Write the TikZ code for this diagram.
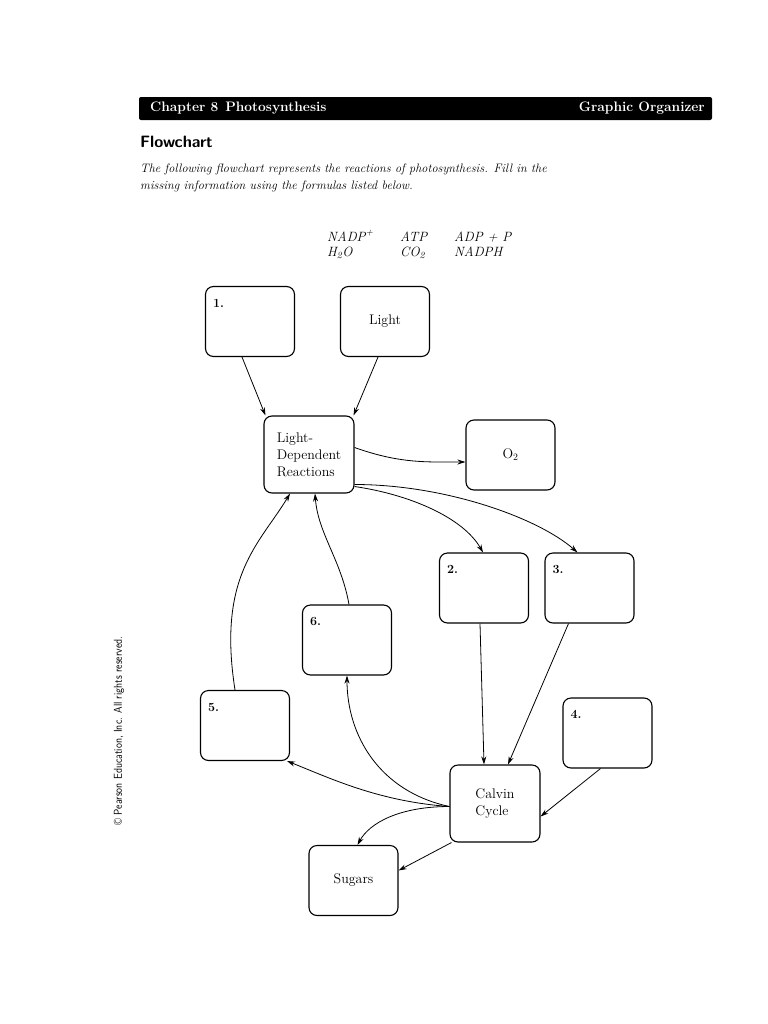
\documentclass[tikz,border=0pt]{standalone}
\usepackage{tikz}
\usetikzlibrary{arrows.meta, positioning}

\begin{document}
\begin{tikzpicture}[x=1bp,y=-1bp,>={Stealth[length=8bp,width=5bp]},
    orgbox/.style={rectangle, draw, line width=1.1bp, rounded corners=8bp, minimum width=89bp, minimum height=70bp, inner sep=0pt, font=\fontsize{14}{17}\selectfont},
    tallbox/.style={orgbox, minimum width=90bp, minimum height=77bp, align=left},
    numlabel/.style={anchor=north west, inner sep=0pt, xshift=8bp, yshift=-13bp, font=\fontsize{12.5}{15}\selectfont\bfseries},
    formula/.style={anchor=base west, inner sep=0pt, font=\fontsize{13.5}{15}\selectfont\itshape},
    link/.style={->, line width=0.8bp}]

      % page and header
      \fill[white] (0,0) rectangle (768,1024);
      \useasboundingbox (0,0) rectangle (768,1024);
      \fill[black, rounded corners=2bp] (139,97) rectangle (712,120);
      \node (chap) [anchor=base west, text=white, inner sep=0pt, font=\fontsize{13.8}{16}\selectfont\bfseries] at (150,111.5) {Chapter 8\enspace Photosynthesis};
      \node (org) [anchor=base east, text=white, inner sep=0pt, font=\fontsize{13.8}{16}\selectfont\bfseries] at (705,111.5) {Graphic Organizer};
      \node (title) [anchor=base west, inner sep=0pt, font=\fontsize{16.5}{19}\selectfont\sffamily\bfseries] at (140,147.5) {Flowchart};
      \node (intro) [anchor=north west, inner sep=0pt, align=left, font=\fontsize{12.3}{17}\selectfont\itshape] at (140,164) {The following flowchart represents the reactions of photosynthesis. Fill in the\\missing information using the formulas listed below.};

      % formulas
      \node (f1) [formula] at (327,241) {NADP\textsuperscript{+}};
      \node (f2) [formula] at (400,241) {ATP};
      \node (f3) [formula] at (454,241) {ADP + P};
      \node (f4) [formula] at (327,256.5) {H\textsubscript{2}O};
      \node (f5) [formula] at (400,256.5) {CO\textsubscript{2}};
      \node (f6) [formula] at (454,256.5) {NADPH};

      % boxes
      \node (b1) [orgbox, label={[numlabel]north west:1.}] at (250,321.5) {};
      \node (light) [orgbox] at (385,321.5) {Light};
      \node (ldr) [tallbox] at (309,454.5) {Light-\\Dependent\\Reactions};
      \node (o2) [orgbox] at (510.5,455) {O\textsubscript{2}};
      \node (b2) [orgbox, label={[numlabel]north west:2.}] at (484,588) {};
      \node (b3) [orgbox, label={[numlabel]north west:3.}] at (589.5,588) {};
      \node (b6) [orgbox, label={[numlabel]north west:6.}] at (347,640) {};
      \node (b5) [orgbox, label={[numlabel]north west:5.}] at (245,725.5) {};
      \node (b4) [orgbox, label={[numlabel]north west:4.}] at (607.5,733) {};
      \node (calvin) [tallbox] at (495,803.5) {Calvin\\Cycle};
      \node (sugars) [orgbox] at (353.5,880.5) {Sugars};

      % connectors
      \coordinate (cw) at ([yshift=-3bp]calvin.west);
      \draw[link] ([xshift=-8bp]b1.south) -- ([xshift=2bp]ldr.north west);
      \draw[link] ([xshift=-7bp]light.south) -- ([xshift=-1bp]ldr.north east);
      \draw[link] ([yshift=7bp]ldr.east) .. controls +(45,16) and +(-40,0) .. ([yshift=-7bp]o2.west);
      \draw[link] ([yshift=-32bp]ldr.east) .. controls +(55,8) and +(-20,-35) .. ([xshift=-1bp]b2.north);
      \draw[link] ([yshift=-30bp]ldr.east) .. controls +(90,0) and +(-40,-35) .. ([xshift=-12bp]b3.north);
      \draw[link] ([xshift=-4bp]b2.south) -- ([xshift=-11bp]calvin.north);
      \draw[link] ([xshift=-21bp]b3.south) -- ([xshift=13bp]calvin.north);
      \draw[link] ([xshift=-7bp]b4.south) -- ([yshift=-13bp]calvin.east);
      \draw[link] (cw) .. controls +(-70,-5) and +(45,18) .. ([xshift=-3bp]b5.south east);
      \draw[link] (cw) .. controls +(-70,-15) and +(0,60) .. (b6.south);
      \draw[link] (cw) .. controls +(-50,0) and +(12,-22) .. ([xshift=4bp]sugars.north);
      \draw[link] ([xshift=2bp]calvin.south west) -- ([yshift=10bp]sugars.east);
      \draw[link] ([xshift=-10bp]b5.north) .. controls +(-18,-115) and +(-30,50) .. ([xshift=-19bp]ldr.south);
      \draw[link] ([xshift=2bp]b6.north) .. controls +(-8,-45) and +(3,40) .. ([xshift=6bp]ldr.south);

      % side note
      \node (copy) [rotate=90, inner sep=0pt, font=\fontsize{11.5}{13}\selectfont\sffamily] at (119,731) {\scalebox{0.88}[1]{\textcopyright{} Pearson Education, Inc. All rights reserved.}};
\end{tikzpicture}
\end{document}
